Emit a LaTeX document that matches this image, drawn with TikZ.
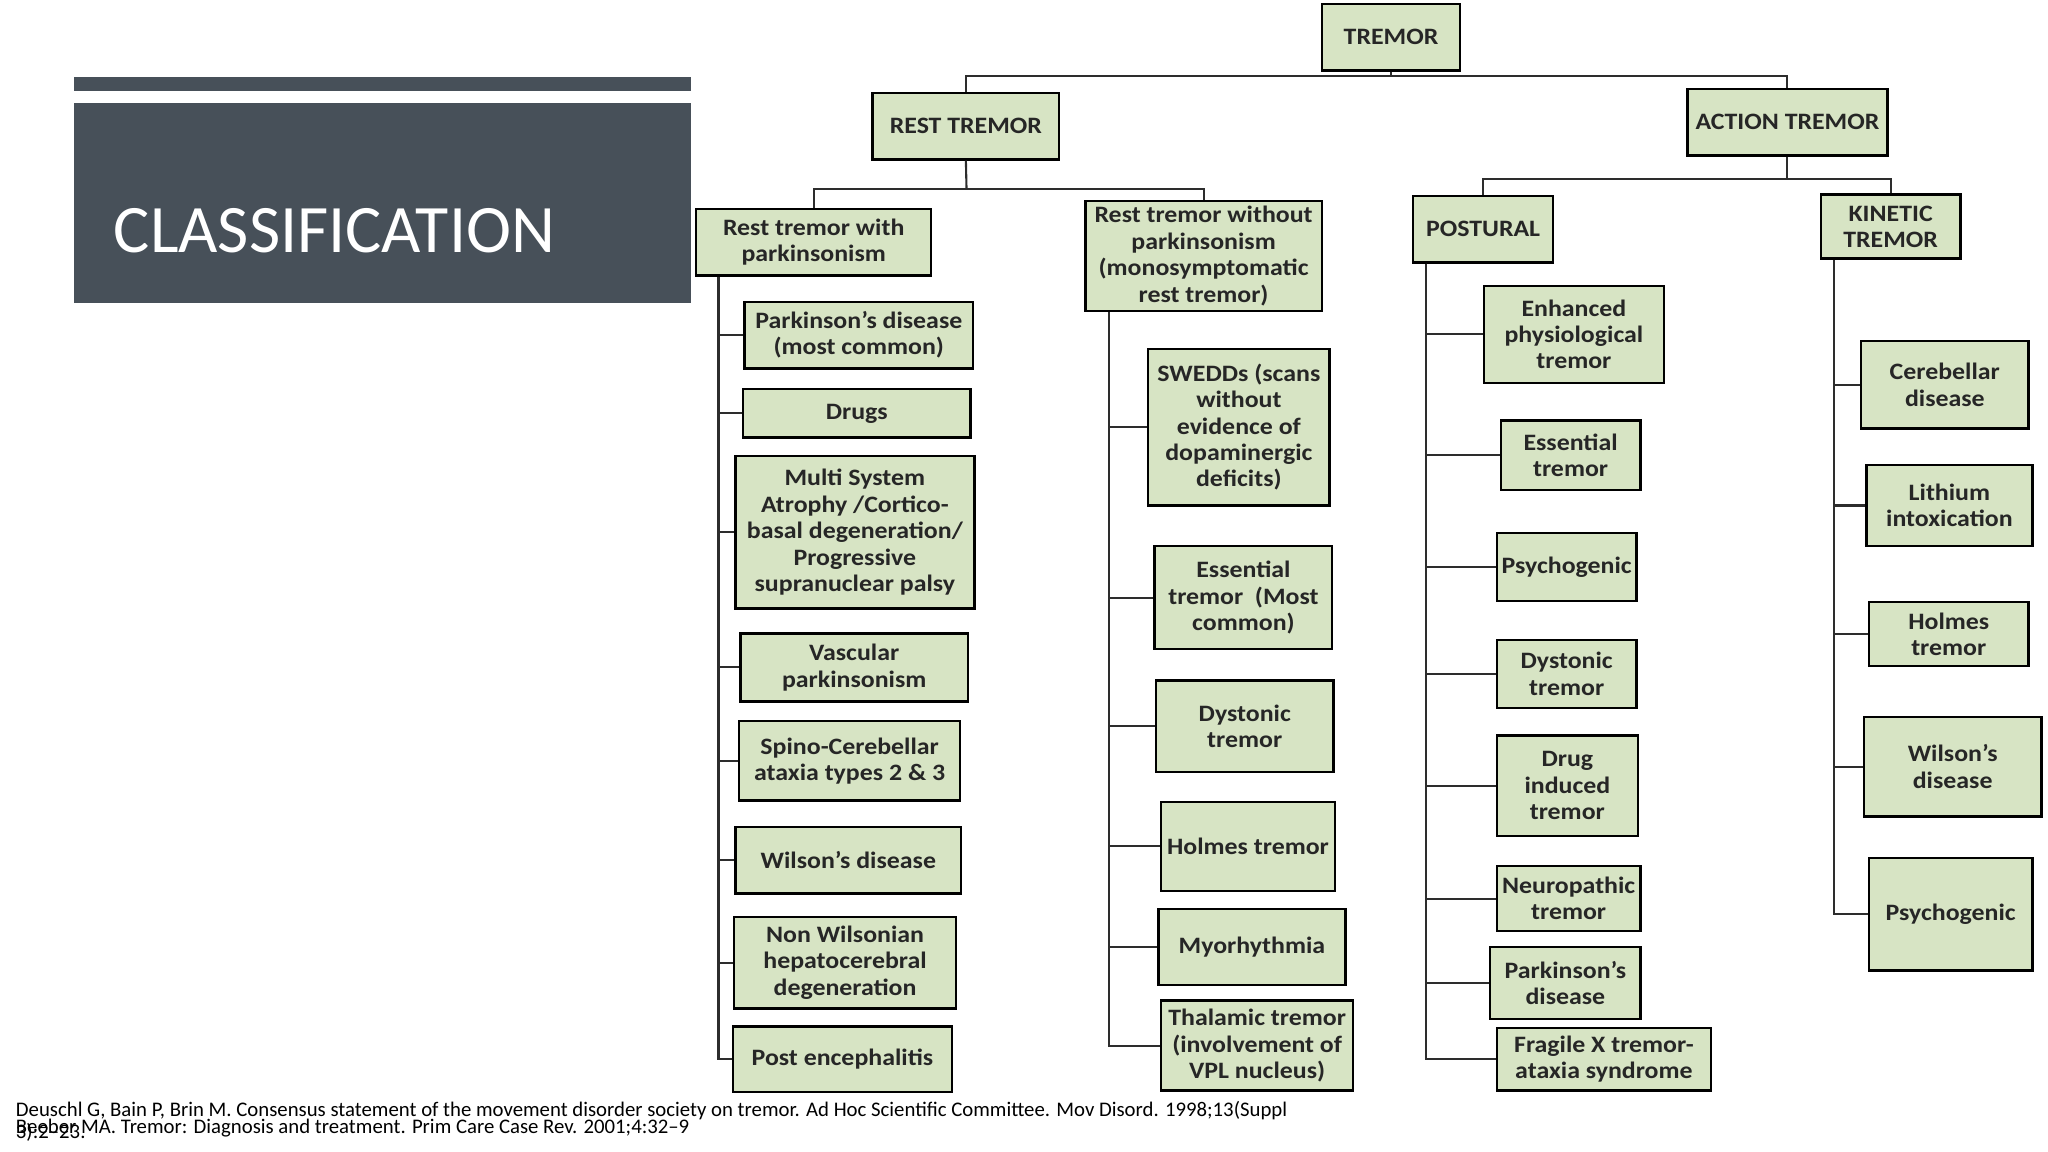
\documentclass[tikz,border=0pt]{standalone}
\usepackage{fontspec}
\setmainfont{Carlito}
\newfontfamily\boxfont[FakeStretch=1.1]{Carlito}
\definecolor{slate}{RGB}{71,80,89}
\definecolor{boxgreen}{RGB}{215,228,196}
\definecolor{boxtext}{RGB}{38,38,38}
\definecolor{linegray}{RGB}{45,45,45}
\tikzset{
  tbox/.style={draw=black, line width=1.8pt, fill=boxgreen, text=boxtext, align=center, inner sep=0pt,
    font=\boxfont\bfseries\fontsize{18}{20.2}\selectfont},
  link/.style={draw=linegray, line width=1.6pt},
  foot/.style={anchor=base west, inner sep=0pt, text=black, font=\fontsize{15.9}{18}\selectfont}
}
\begin{document}
\begin{tikzpicture}[x=1pt, y=-1pt]
			\useasboundingbox (0,0) rectangle (1568,882);
			% Title panel
			\fill[slate] (57,59) rectangle (529,70);
			\fill[slate] (57,79) rectangle (529,232);
			\node[anchor=base west, inner sep=0pt, text=white, font=\fontsize{52}{60}\selectfont] (title) at (87,193) {CLASSIFICATION};
			
			% Top levels
			\node[tbox, minimum width=106pt, minimum height=51pt] (tremor) at (1065,28.5) {TREMOR};
			\node[tbox, minimum width=143pt, minimum height=51pt] (rest) at (739.5,96.5) {REST TREMOR};
			\node[tbox, minimum width=153pt, minimum height=51pt] (action) at (1368.5,93.5) {ACTION TREMOR};
			\node[tbox, minimum width=180pt, minimum height=51pt] (with) at (623,185.5) {Rest tremor with\\parkinsonism};
			\node[tbox, minimum width=181pt, minimum height=84pt] (without) at (921.5,196) {Rest tremor without\\parkinsonism\\(monosymptomatic\\rest tremor)};
			\node[tbox, minimum width=107pt, minimum height=51pt] (postural) at (1135.5,175.5) {POSTURAL};
			\node[tbox, minimum width=107pt, minimum height=49pt] (kinetic) at (1447.5,173.5) {KINETIC\\TREMOR};
			
			% With parkinsonism
			\node[tbox, minimum width=175pt, minimum height=51pt] (wpd) at (657.5,256.5) {Parkinson’s disease\\(most common)};
			\node[tbox, minimum width=174pt, minimum height=37pt] (wdrugs) at (656,316.5) {Drugs};
			\node[tbox, minimum width=183pt, minimum height=117pt] (wmsa) at (654.5,407.5) {Multi System\\Atrophy /Cortico-\\basal degeneration/\\Progressive\\supranuclear palsy};
			\node[tbox, minimum width=174pt, minimum height=52pt] (wvasc) at (654,511) {Vascular\\parkinsonism};
			\node[tbox, minimum width=169pt, minimum height=61pt] (wsca) at (650.5,582.5) {Spino-Cerebellar\\ataxia types 2 \& 3};
			\node[tbox, minimum width=173pt, minimum height=51pt] (wwil) at (649.5,658.5) {Wilson’s disease};
			\node[tbox, minimum width=170pt, minimum height=70pt] (wnon) at (647,737) {Non Wilsonian\\hepatocerebral\\degeneration};
			\node[tbox, minimum width=168pt, minimum height=50pt] (wpost) at (645,811) {Post encephalitis};
			
			% Without parkinsonism
			\node[tbox, minimum width=139pt, minimum height=120pt] (oswed) at (948.5,327) {SWEDDs (scans\\without\\evidence of\\dopaminergic\\deficits)};
			\node[tbox, minimum width=136pt, minimum height=79pt] (oess) at (952,457.5) {Essential\\tremor\ \ (Most\\common)};
			\node[tbox, minimum width=136pt, minimum height=70pt] (odys) at (953,556) {Dystonic\\tremor};
			\node[tbox, minimum width=133pt, minimum height=68pt] (ohol) at (955.5,648) {Holmes tremor};
			\node[tbox, minimum width=143pt, minimum height=58pt] (omyo) at (958.5,725) {Myorhythmia};
			\node[tbox, minimum width=147pt, minimum height=69pt] (otha) at (962.5,800.5) {Thalamic tremor\\(involvement of\\VPL nucleus)};
			
			% Postural
			\node[tbox, minimum width=138pt, minimum height=74pt] (penh) at (1205,256) {Enhanced\\physiological\\tremor};
			\node[tbox, minimum width=107pt, minimum height=53pt] (pess) at (1202.5,348.5) {Essential\\tremor};
			\node[tbox, minimum width=107pt, minimum height=52pt] (ppsy) at (1199.5,434) {Psychogenic};
			\node[tbox, minimum width=107pt, minimum height=52pt] (pdys) at (1199.5,516) {Dystonic\\tremor};
			\node[tbox, minimum width=108pt, minimum height=77pt] (pdrug) at (1200,601.5) {Drug\\induced\\tremor};
			\node[tbox, minimum width=110pt, minimum height=50pt] (pneu) at (1201,688) {Neuropathic\\tremor};
			\node[tbox, minimum width=115pt, minimum height=55pt] (ppd) at (1198.5,752.5) {Parkinson’s\\disease};
			\node[tbox, minimum width=164pt, minimum height=48pt] (pfrag) at (1228,811) {Fragile X tremor-\\ataxia syndrome};
			
			% Kinetic
			\node[tbox, minimum width=128pt, minimum height=67pt] (kcer) at (1489,294.5) {Cerebellar\\disease};
			\node[tbox, minimum width=127pt, minimum height=62pt] (klit) at (1492.5,387) {Lithium\\intoxication};
			\node[tbox, minimum width=122pt, minimum height=49pt] (khol) at (1492,485.5) {Holmes\\tremor};
			\node[tbox, minimum width=136pt, minimum height=76pt] (kwil) at (1495,587) {Wilson’s\\disease};
			\node[tbox, minimum width=125pt, minimum height=86pt] (kpsy) at (1493.5,700) {Psychogenic};
			
			% Branches
			\coordinate (bus0) at (1065,58);
			\coordinate (bus1) at (740,145);
			\coordinate (bus2) at (1368.5,137);
			\draw[link] (tremor.south) -- (bus0);
			\draw[link] (rest.north) |- (bus0) -| (action.north);
			\draw[link] (rest.south) -- (bus1);
			\draw[link] (with.north) |- (bus1) -| (without.north);
			\draw[link] (action.south) -- (bus2);
			\draw[link] (postural.north) |- (bus2) -| (kinetic.north);
			
			% Spines
			\coordinate (wsp) at ([xshift=18pt]with.south west);
			\coordinate (osp) at ([xshift=19pt]without.south west);
			\coordinate (psp) at ([xshift=11pt]postural.south west);
			\coordinate (ksp) at ([xshift=11pt]kinetic.south west);
			\draw[link] (wsp) |- (wpd.west);
			\draw[link] (wsp) |- (wdrugs.west);
			\draw[link] (wsp) |- (wmsa.west);
			\draw[link] (wsp) |- (wvasc.west);
			\draw[link] (wsp) |- (wsca.west);
			\draw[link] (wsp) |- (wwil.west);
			\draw[link] (wsp) |- (wnon.west);
			\draw[link] (wsp) |- (wpost.west);
			\draw[link] (osp) |- (oswed.west);
			\draw[link] (osp) |- (oess.west);
			\draw[link] (osp) |- (odys.west);
			\draw[link] (osp) |- (ohol.west);
			\draw[link] (osp) |- (omyo.west);
			\draw[link] (osp) |- (otha.west);
			\draw[link] (psp) |- (penh.west);
			\draw[link] (psp) |- (pess.west);
			\draw[link] (psp) |- (ppsy.west);
			\draw[link] (psp) |- (pdys.west);
			\draw[link] (psp) |- (pdrug.west);
			\draw[link] (psp) |- (pneu.west);
			\draw[link] (psp) |- (ppd.west);
			\draw[link] (psp) |- (pfrag.west);
			\draw[link] (ksp) |- (kcer.west);
			\draw[link] (ksp) |- (klit.west);
			\draw[link] (ksp) |- (khol.west);
			\draw[link] (ksp) |- (kwil.west);
			\draw[link] (ksp) |- (kpsy.west);
			
			% References
			\node[foot] (ref1) at (12,855) {Deuschl G, Bain P, Brin M. Consensus statement of the movement disorder society on tremor. Ad Hoc Scientific Committee. Mov Disord. 1998;13(Suppl};
			\node[foot] (ref1b) at (12,872) {3):2–23.};
			\node[foot] (ref2) at (12,868) {Beeber MA. Tremor: Diagnosis and treatment. Prim Care Case Rev. 2001;4:32–9};
		\end{tikzpicture}
\end{document}
